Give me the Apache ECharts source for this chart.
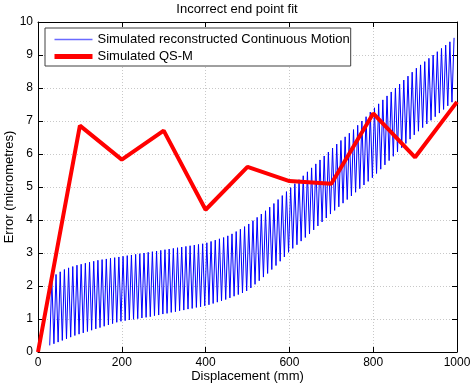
<!DOCTYPE html>
<html>
<head>
<meta charset="utf-8">
<script src="https://cdn.jsdelivr.net/npm/echarts@6/dist/echarts.min.js"></script>
<style>html,body{margin:0;padding:0;background:#fff}#c{width:474px;height:388px}</style>
</head>
<body>
<div id="c"></div>
<script>
var titleText = 'Incorrect end point fit';
var xName = 'Displacement (mm)';
var yName = 'Error (micrometres)';
var seriesNames = ['Simulated reconstructed Continuous Motion', 'Simulated QS-M'];

var xTicks = [0, 200, 400, 600, 800, 1000];
var yTicks = [0, 1, 2, 3, 4, 5, 6, 7, 8, 9, 10];

// QS-M (red)
var qsX = [0, 100, 200, 300, 400, 500, 600, 700, 800, 900, 1000];
var qsY = [0, 6.86, 5.83, 6.71, 4.31, 5.61, 5.18, 5.1, 7.23, 5.9, 7.58];

// Continuous motion (blue): trough and peak of each oscillation
var troughX = [28,38,48,58,68,78,88,98,108,118,128,138,148,158,168,178,188,198,208,218,228,238,248,258,268,278,288,298,308,318,328,338,348,358,368,378,388,398,408,418,428,438,448,458,468,478,488,498,508,518,528,538,548,558,568,578,588,598,608,618,628,638,648,658,668,678,688,698,708,718,728,738,748,758,768,778,788,798,808,818,828,838,848,858,868,878,888,898,908,918,928,938,948,958,968,978,988];
var troughY = [0.2,0.25,0.3,0.35,0.4,0.45,0.5,0.54,0.58,0.62,0.66,0.7,0.74,0.78,0.82,0.86,0.9,0.93,0.95,0.97,0.99,1.01,1.03,1.05,1.07,1.1,1.12,1.15,1.17,1.2,1.22,1.25,1.27,1.3,1.32,1.35,1.37,1.4,1.43,1.47,1.51,1.55,1.59,1.64,1.69,1.74,1.79,1.85,1.94,2.05,2.16,2.27,2.38,2.5,2.62,2.75,2.88,3.02,3.14,3.25,3.36,3.47,3.58,3.7,3.82,3.94,4.06,4.18,4.29,4.4,4.51,4.62,4.73,4.84,4.95,5.06,5.17,5.28,5.41,5.54,5.67,5.8,5.93,6.06,6.19,6.32,6.45,6.58,6.69,6.8,6.91,7.02,7.13,7.24,7.35,7.46,7.57];
var peakX = [33,43,53,63,73,83,93,103,113,123,133,143,153,163,173,183,193,203,213,223,233,243,253,263,273,283,293,303,313,323,333,343,353,363,373,383,393,403,413,423,433,443,453,463,473,483,493,503,513,523,533,543,553,563,573,583,593,603,613,623,633,643,653,663,673,683,693,703,713,723,733,743,753,763,773,783,793,803,813,823,833,843,853,863,873,883,893,903,913,923,933,943,953,963,973,983,993];
var peakY = [2.22,2.35,2.43,2.5,2.55,2.59,2.63,2.66,2.69,2.72,2.75,2.78,2.8,2.82,2.84,2.86,2.88,2.9,2.92,2.94,2.96,2.98,3.0,3.02,3.04,3.06,3.08,3.1,3.12,3.14,3.16,3.18,3.2,3.22,3.24,3.26,3.28,3.31,3.35,3.39,3.43,3.47,3.52,3.58,3.65,3.72,3.8,3.88,3.98,4.08,4.18,4.28,4.39,4.5,4.62,4.74,4.86,4.98,5.1,5.22,5.34,5.46,5.58,5.7,5.82,5.94,6.06,6.18,6.3,6.41,6.52,6.63,6.74,6.87,7.0,7.13,7.27,7.4,7.52,7.64,7.76,7.88,8.0,8.12,8.24,8.36,8.48,8.6,8.7,8.8,8.9,9.0,9.1,9.2,9.3,9.4,9.52];

var blueData = [];
for (var i = 0; i < troughX.length; i++) {
  blueData.push([troughX[i], troughY[i]]);
  blueData.push([peakX[i], peakY[i]]);
}
var redData = qsX.map(function (x, i) { return [x, qsY[i]]; });

var FONT = 'Liberation Sans, Arial, Helvetica, sans-serif';
var chart = echarts.init(document.getElementById('c'), null, {renderer: 'canvas'});

function xAxisBase(pos) {
  return {
    type: 'value', position: pos, min: xTicks[0], max: xTicks[xTicks.length - 1],
    interval: xTicks[1] - xTicks[0],
    axisLine: {show: true, onZero: false, lineStyle: {color: '#000', width: 1}},
    axisTick: {show: true, inside: true, length: 5, lineStyle: {color: '#000'}},
    splitLine: {show: false},
    axisLabel: {show: false}
  };
}
function yAxisBase(pos) {
  return {
    type: 'value', position: pos, min: yTicks[0], max: yTicks[yTicks.length - 1],
    interval: yTicks[1] - yTicks[0],
    axisLine: {show: true, onZero: false, lineStyle: {color: '#000', width: 1}},
    axisTick: {show: true, inside: true, length: 5, lineStyle: {color: '#000'}},
    splitLine: {show: false},
    axisLabel: {show: false}
  };
}

var xMain = xAxisBase('bottom');
xMain.axisLabel = {show: true, color: '#000', fontFamily: FONT, fontSize: 12, margin: 5,
  formatter: function (v) { return String(v); }};
xMain.splitLine = {show: true, lineStyle: {color: '#c8c8c8', type: [1, 2], width: 1}};
xMain.name = xName;
xMain.nameLocation = 'middle';
xMain.nameGap = 18;
xMain.nameMoveOverlap = false;
xMain.nameTextStyle = {color: '#000', fontFamily: FONT, fontSize: 13};

var yMain = yAxisBase('left');
yMain.axisLabel = {show: true, color: '#000', fontFamily: FONT, fontSize: 12, margin: 5,
  formatter: function (v) { return String(v); }};
yMain.splitLine = {show: true, lineStyle: {color: '#c8c8c8', type: [1, 2], width: 1}};
yMain.name = yName;
yMain.nameLocation = 'middle';
yMain.nameGap = 22;
yMain.nameMoveOverlap = false;
yMain.nameTextStyle = {color: '#000', fontFamily: FONT, fontSize: 13};

var option = {
  backgroundColor: '#fff',
  animation: false,
  title: {
    text: titleText, left: 'center', top: -2,
    textStyle: {color: '#000', fontFamily: FONT, fontSize: 13, fontWeight: 'normal'}
  },
  grid: {left: 38, right: 17, top: 22, bottom: 36, containLabel: false, outerBoundsMode: 'none'},
  legend: {
    orient: 'vertical', left: 45, top: 28,
    padding: [5, 1, 3, 7], itemGap: 4, itemWidth: 38, itemHeight: 14,
    backgroundColor: '#fff', borderColor: '#404040', borderWidth: 1,
    itemStyle: {opacity: 0},
    textStyle: {color: '#000', fontFamily: FONT, fontSize: 13},
    data: [
      {name: seriesNames[0], lineStyle: {width: 1.5, color: '#6a6aff'}},
      {name: seriesNames[1], lineStyle: {width: 5, color: '#ff0000'}}
    ]
  },
  xAxis: [xMain, xAxisBase('top')],
  yAxis: [yMain, yAxisBase('right')],
  series: [
    {
      name: seriesNames[0], type: 'line', data: blueData, symbol: 'none',
      lineStyle: {color: '#0000ff', width: 1}, itemStyle: {color: '#0000ff'}, z: 2
    },
    {
      name: seriesNames[1], type: 'line', data: redData, symbol: 'none',
      lineStyle: {color: '#ff0000', width: 4}, itemStyle: {color: '#ff0000'}, z: 3
    }
  ]
};
chart.setOption(option);
</script>
</body>
</html>
